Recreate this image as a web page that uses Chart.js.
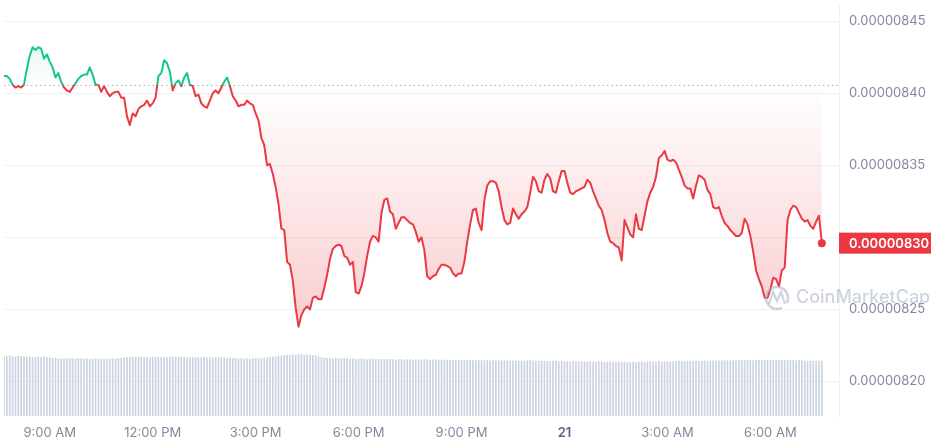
<!DOCTYPE html>
<html lang="en">
<head>
    <meta charset="UTF-8">
    <title>Price chart 24h</title>
    <script src="https://cdn.jsdelivr.net/npm/chart.js"></script>
    <style>
        html, body { margin: 0; padding: 0; background: #ffffff; }
        .chart-box { position: relative; width: 931px; height: 445px; }
    </style>
</head>
<body>
    <div class="chart-box">
        <canvas id="priceChart"></canvas>
    </div>

    <script>
        // price in units of 1e-8, one value every 5 minutes starting 7:40 AM
        const priceE8 = [
            841.2, 841.2, 841.0, 840.6, 840.4, 840.5, 840.4, 840.6, 841.7, 842.6,
            843.2, 843.0, 843.2, 843.1, 842.4, 842.7, 842.2, 841.8, 841.1, 841.4,
            840.8, 840.4, 840.2, 840.1, 840.4, 840.7, 841.0, 841.2, 841.3, 841.3,
            841.8, 841.3, 840.6, 840.6, 840.1, 840.5, 840.1, 839.8, 840.0, 840.1,
            840.1, 839.7, 839.7, 838.4, 837.8, 838.6, 838.4, 838.9, 839.1, 839.2,
            839.5, 839.1, 839.3, 839.7, 841.2, 841.4, 842.3, 842.1, 841.5, 840.2,
            840.7, 840.9, 840.5, 841.1, 841.4, 840.6, 840.5, 839.8, 839.9, 839.3,
            839.1, 839.0, 839.5, 840.0, 840.2, 840.0, 840.4, 840.8, 841.1, 840.5,
            839.8, 839.5, 839.1, 839.2, 839.2, 839.5, 839.3, 839.2, 838.6, 838.1,
            836.9, 836.4, 835.0, 835.1, 834.4, 833.5, 832.3, 830.6, 830.5, 828.3,
            828.1, 827.0, 825.1, 823.8, 824.6, 825.0, 825.2, 825.0, 825.8, 825.9,
            825.7, 825.7, 826.5, 827.4, 828.5, 829.2, 829.4, 829.5, 829.4, 828.7,
            828.6, 828.1, 828.3, 826.2, 826.1, 826.6, 827.5, 828.7, 829.7, 830.1,
            830.0, 829.7, 831.7, 832.6, 832.7, 831.8, 831.6, 830.6, 831.0, 831.4,
            831.4, 831.2, 831.0, 830.9, 830.4, 829.7, 830.0, 829.1, 827.3, 827.1,
            827.3, 827.4, 827.8, 828.1, 828.1, 828.0, 827.9, 827.5, 827.3, 827.5,
            827.5, 828.3, 829.7, 830.9, 831.9, 832.0, 831.0, 830.5, 832.6, 833.6,
            833.9, 833.9, 833.8, 833.2, 832.1, 831.2, 830.9, 831.0, 832.0, 831.6,
            831.3, 831.6, 831.8, 832.1, 833.1, 834.2, 833.9, 833.2, 833.1, 834.0,
            834.4, 834.1, 833.2, 833.1, 833.9, 834.6, 834.6, 833.8, 833.1, 833.0,
            833.2, 833.3, 833.4, 833.5, 834.0, 833.8, 833.2, 832.7, 832.2, 831.9,
            831.2, 830.3, 829.7, 829.6, 829.4, 829.3, 828.4, 831.2, 830.7, 830.2,
            830.0, 831.6, 830.6, 830.5, 831.5, 832.5, 833.1, 833.5, 834.2, 835.5,
            835.7, 836.0, 835.4, 835.3, 835.4, 835.2, 834.7, 834.2, 833.6, 833.4,
            833.4, 832.7, 833.6, 834.3, 834.2, 834.0, 833.3, 833.0, 832.1, 832.0,
            832.1, 831.5, 831.0, 830.8, 830.5, 830.3, 830.1, 830.1, 830.3, 831.3,
            830.9, 830.1, 829.0, 827.7, 827.1, 826.6, 825.8, 825.8, 826.4, 827.2,
            827.1, 826.6, 827.7, 827.9, 831.2, 831.9, 832.2, 832.1, 831.7, 831.3,
            831.1, 831.2, 830.8, 830.6, 831.1, 831.5, 829.6
        ];

        // volume, arbitrary units, same 5 minute steps
        const volume = [
            1.45, 1.44, 1.46, 1.44, 1.43, 1.45, 1.44, 1.44, 1.43, 1.44, 1.42, 1.43, 1.44, 1.42, 1.43, 1.42, 1.41, 1.40,
            1.40, 1.39, 1.39, 1.38, 1.39, 1.40, 1.39, 1.38, 1.39, 1.39, 1.38, 1.39, 1.38, 1.38, 1.39, 1.38, 1.38, 1.39, 1.38, 1.38, 1.39, 1.38, 1.39, 1.40,
            1.41, 1.42, 1.42, 1.43, 1.42, 1.42, 1.43, 1.42, 1.42, 1.41, 1.42, 1.43, 1.42, 1.42, 1.41, 1.42, 1.43, 1.44, 1.43,
            1.42, 1.43, 1.42, 1.42, 1.41, 1.42, 1.42, 1.41, 1.42, 1.42, 1.41, 1.42, 1.41, 1.41, 1.42, 1.41, 1.41, 1.40, 1.41, 1.40, 1.40, 1.39, 1.40, 1.39, 1.39, 1.38, 1.39,
            1.39, 1.40, 1.39, 1.40, 1.41, 1.42, 1.43, 1.44, 1.45, 1.46,
            1.47, 1.48, 1.48, 1.49, 1.48, 1.49, 1.49, 1.48, 1.49, 1.48, 1.47, 1.46, 1.44, 1.42,
            1.41, 1.40, 1.40, 1.39, 1.40, 1.39, 1.39, 1.40, 1.39, 1.38, 1.39, 1.38, 1.38, 1.39, 1.38, 1.37, 1.38, 1.38, 1.37, 1.38, 1.37, 1.37, 1.38, 1.37, 1.37,
            1.36, 1.37, 1.37, 1.36, 1.37, 1.37, 1.36, 1.37, 1.36, 1.36, 1.37, 1.36, 1.36, 1.37, 1.36, 1.36, 1.35, 1.36, 1.36, 1.35, 1.36, 1.35, 1.36, 1.35,
            1.35, 1.36, 1.35, 1.35, 1.34, 1.35, 1.35, 1.34, 1.35, 1.34, 1.35, 1.34, 1.34, 1.35, 1.34, 1.34, 1.33,
            1.34, 1.34, 1.33, 1.34, 1.33, 1.34, 1.35, 1.34, 1.33, 1.33, 1.34, 1.33, 1.33, 1.32, 1.33, 1.33, 1.32,
            1.33, 1.32, 1.32, 1.31, 1.32, 1.32, 1.31, 1.32, 1.31, 1.31, 1.32, 1.31, 1.31, 1.32, 1.31, 1.30, 1.31, 1.31, 1.30, 1.31, 1.31, 1.30, 1.31, 1.30, 1.30,
            1.31, 1.30, 1.31, 1.31, 1.30, 1.31, 1.32, 1.31, 1.31, 1.32, 1.31, 1.32, 1.32, 1.31, 1.32, 1.32, 1.33, 1.32, 1.32, 1.33, 1.32, 1.33, 1.33, 1.32,
            1.33, 1.34, 1.33, 1.34, 1.34, 1.33, 1.34, 1.34, 1.35, 1.34, 1.34, 1.35, 1.34, 1.35, 1.35, 1.34, 1.35, 1.35,
            1.34, 1.35, 1.36, 1.35, 1.35, 1.36, 1.35, 1.36, 1.36, 1.35, 1.36, 1.35, 1.35, 1.36, 1.35, 1.34, 1.35,
            1.34, 1.34, 1.33, 1.34, 1.33, 1.33, 1.34, 1.33
        ];

        const STEP_MIN = 5;
        const X_MAX_MIN = 1460;
        const openPriceE8 = 840.6; // dotted reference line

        const xTickMinutes = [80, 260, 440, 620, 800, 980, 1160, 1340];
        const xTickLabels = ['9:00 AM', '12:00 PM', '3:00 PM', '6:00 PM', '9:00 PM', '21', '3:00 AM', '6:00 AM'];
        const yTicksE8 = [820, 825, 830, 835, 840, 845];

        const GREEN = 'rgba(22, 199, 132, 1)';
        const RED = 'rgba(234, 57, 67, 1)';
        const LABEL_GREY = '#808a9d';

        const pricePoints = priceE8.map((v, i) => ({ x: i * STEP_MIN, y: v }));
        const volumePoints = volume.map((v, i) => ({ x: i * STEP_MIN, y: v }));
        const lastIdx = priceE8.length - 1;

        function baseStop(chart) {
            const area = chart.chartArea;
            const yb = chart.scales.y.getPixelForValue(openPriceE8);
            return Math.min(1, Math.max(0, (yb - area.top) / (area.bottom - area.top)));
        }

        function lineColor(context) {
            const chart = context.chart;
            if (!chart.chartArea) return RED;
            const area = chart.chartArea;
            const s = baseStop(chart);
            const g = chart.ctx.createLinearGradient(0, area.top, 0, area.bottom);
            g.addColorStop(0, GREEN);
            g.addColorStop(s, GREEN);
            g.addColorStop(s, RED);
            g.addColorStop(1, RED);
            return g;
        }

        function fillColor(context) {
            const chart = context.chart;
            if (!chart.chartArea) return 'rgba(234, 57, 67, 0.1)';
            const area = chart.chartArea;
            const s = baseStop(chart);
            const g = chart.ctx.createLinearGradient(0, area.top, 0, area.bottom);
            g.addColorStop(0, 'rgba(22, 199, 132, 0.22)');
            g.addColorStop(s, 'rgba(22, 199, 132, 0)');
            g.addColorStop(s, 'rgba(234, 57, 67, 0)');
            g.addColorStop(0.8, 'rgba(234, 57, 67, 0.26)');
            g.addColorStop(1, 'rgba(234, 57, 67, 0.3)');
            return g;
        }

        const extrasPlugin = {
            id: 'extras',
            beforeDatasetsDraw(chart) {
                const { ctx, chartArea, scales } = chart;
                const y = Math.round(scales.y.getPixelForValue(openPriceE8)) + 0.5;
                ctx.save();
                ctx.strokeStyle = '#a6b0c3';
                ctx.lineWidth = 1;
                ctx.setLineDash([1.5, 3]);
                ctx.beginPath();
                ctx.moveTo(chartArea.left, y);
                ctx.lineTo(chartArea.right, y);
                ctx.stroke();
                ctx.restore();
            },
            afterDatasetsDraw(chart) {
                // watermark
                const { ctx } = chart;
                ctx.save();
                ctx.globalAlpha = 0.55;
                ctx.strokeStyle = '#a6b0c3';
                ctx.fillStyle = '#a6b0c3';
                ctx.lineWidth = 2.6;
                ctx.beginPath();
                ctx.arc(777, 298, 11, 0.35 * Math.PI, 2.15 * Math.PI);
                ctx.stroke();
                ctx.lineWidth = 2.2;
                ctx.beginPath();
                ctx.moveTo(769, 304);
                ctx.lineTo(773, 292);
                ctx.lineTo(777, 301);
                ctx.lineTo(781, 292);
                ctx.lineTo(785, 304);
                ctx.stroke();
                ctx.font = '500 18px Inter, "Noto Sans", sans-serif';
                ctx.textBaseline = 'middle';
                ctx.textAlign = 'left';
                ctx.fillText('CoinMarketCap', 796, 298);
                ctx.restore();
            },
            afterDraw(chart) {
                // current price tag on the right axis
                const { ctx, chartArea, scales } = chart;
                const yp = scales.y.getPixelForValue(priceE8[lastIdx]);
                ctx.save();
                ctx.fillStyle = RED;
                ctx.fillRect(chartArea.right, yp - 10.5, chart.width - chartArea.right, 21);
                ctx.fillStyle = '#ffffff';
                ctx.font = '600 13px Inter, "Noto Sans", sans-serif';
                ctx.textBaseline = 'middle';
                ctx.textAlign = 'left';
                ctx.fillText((priceE8[lastIdx] * 1e-8).toFixed(8), chartArea.right + 10, yp + 0.5);
                ctx.restore();
            }
        };

        new Chart(document.getElementById('priceChart'), {
            type: 'line',
            data: {
                datasets: [{
                    label: 'Price',
                    data: pricePoints,
                    yAxisID: 'y',
                    order: 0,
                    borderColor: lineColor,
                    backgroundColor: fillColor,
                    fill: { target: { value: openPriceE8 } },
                    borderWidth: 2,
                    borderJoinStyle: 'round',
                    tension: 0,
                    pointRadius: ctx => ctx.dataIndex === lastIdx ? 4 : 0,
                    pointHoverRadius: 0,
                    pointBackgroundColor: RED,
                    pointBorderColor: RED,
                    pointBorderWidth: 0
                }, {
                    type: 'bar',
                    label: 'Volume',
                    data: volumePoints,
                    yAxisID: 'yv',
                    order: 1,
                    backgroundColor: '#cbd2e1',
                    barThickness: 1
                }]
            },
            options: {
                responsive: true,
                maintainAspectRatio: false,
                animation: false,
                layout: { padding: 0 },
                scales: {
                    x: {
                        type: 'linear',
                        min: 0,
                        max: X_MAX_MIN,
                        offset: false,
                        grid: { display: false, drawTicks: false },
                        border: { display: false },
                        afterBuildTicks: s => { s.ticks = xTickMinutes.map(v => ({ value: v })); },
                        afterFit: s => {
                            s.height = 29;
                            s.paddingLeft = 0;
                            s.paddingRight = 0;
                        },
                        ticks: {
                            padding: 9,
                            maxRotation: 0,
                            autoSkip: false,
                            color: ctx => (ctx.tick && ctx.tick.value === 980) ? '#58667e' : LABEL_GREY,
                            font: ctx => ({
                                family: 'Inter, "Noto Sans", sans-serif',
                                size: 13,
                                weight: (ctx.tick && ctx.tick.value === 980) ? '600' : '400'
                            }),
                            callback: v => {
                                const k = xTickMinutes.indexOf(v);
                                return k >= 0 ? xTickLabels[k] : '';
                            }
                        }
                    },
                    y: {
                        type: 'linear',
                        position: 'right',
                        min: 817.6,
                        max: 846.2,
                        afterBuildTicks: s => { s.ticks = yTicksE8.map(v => ({ value: v })); },
                        afterFit: s => {
                            s.width = 92;
                            s.paddingTop = 0;
                            s.paddingBottom = 0;
                        },
                        grid: { color: '#eff1f4', drawTicks: false },
                        border: { display: true, color: '#eff1f4' },
                        ticks: {
                            padding: 10,
                            // the tick hidden behind the current price tag is left out
                            color: ctx => (ctx.tick && Math.abs(ctx.tick.value - priceE8[lastIdx]) < 1.5) ? 'rgba(0,0,0,0)' : LABEL_GREY,
                            font: { family: 'Inter, "Noto Sans", sans-serif', size: 13 },
                            callback: v => (v * 1e-8).toFixed(8)
                        }
                    },
                    yv: {
                        type: 'linear',
                        display: false,
                        min: 0,
                        max: 10
                    }
                },
                plugins: {
                    legend: { display: false },
                    tooltip: { enabled: false }
                }
            },
            plugins: [extrasPlugin]
        });
    </script>
</body>
</html>
